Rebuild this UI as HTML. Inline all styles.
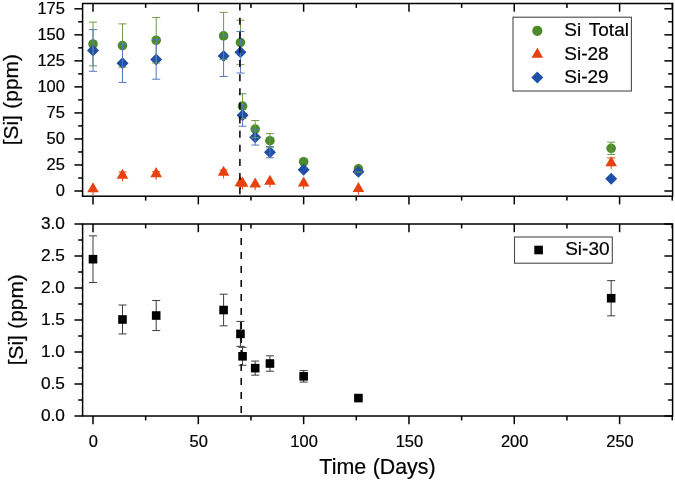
<!DOCTYPE html>
<html><head><meta charset="utf-8"><title>Si concentration vs time</title>
<style>
html,body{margin:0;padding:0;background:#fff;}
svg{display:block;font-family:"Liberation Sans",sans-serif;fill:#000;}
text{stroke:#000;stroke-width:0.2px;}
</style></head>
<body>
<svg width="675" height="481" viewBox="0 0 675 481">
<rect width="675" height="481" fill="#fff"/>
<g id="axes">
<rect x="82.6" y="3.5" width="590" height="192.7" fill="none" stroke="#000" stroke-width="1.5"/>
<line x1="93" y1="3.5" x2="93" y2="11.7" stroke="#000" stroke-width="1.5"/>
<line x1="93" y1="196.2" x2="93" y2="204.4" stroke="#000" stroke-width="1.5"/>
<line x1="198.32" y1="3.5" x2="198.32" y2="11.7" stroke="#000" stroke-width="1.5"/>
<line x1="198.32" y1="196.2" x2="198.32" y2="204.4" stroke="#000" stroke-width="1.5"/>
<line x1="303.64" y1="3.5" x2="303.64" y2="11.7" stroke="#000" stroke-width="1.5"/>
<line x1="303.64" y1="196.2" x2="303.64" y2="204.4" stroke="#000" stroke-width="1.5"/>
<line x1="408.96" y1="3.5" x2="408.96" y2="11.7" stroke="#000" stroke-width="1.5"/>
<line x1="408.96" y1="196.2" x2="408.96" y2="204.4" stroke="#000" stroke-width="1.5"/>
<line x1="514.28" y1="3.5" x2="514.28" y2="11.7" stroke="#000" stroke-width="1.5"/>
<line x1="514.28" y1="196.2" x2="514.28" y2="204.4" stroke="#000" stroke-width="1.5"/>
<line x1="619.6" y1="3.5" x2="619.6" y2="11.7" stroke="#000" stroke-width="1.5"/>
<line x1="619.6" y1="196.2" x2="619.6" y2="204.4" stroke="#000" stroke-width="1.5"/>
<line x1="145.66" y1="3.5" x2="145.66" y2="7.9" stroke="#000" stroke-width="1.5"/>
<line x1="145.66" y1="196.2" x2="145.66" y2="200.6" stroke="#000" stroke-width="1.5"/>
<line x1="250.98" y1="3.5" x2="250.98" y2="7.9" stroke="#000" stroke-width="1.5"/>
<line x1="250.98" y1="196.2" x2="250.98" y2="200.6" stroke="#000" stroke-width="1.5"/>
<line x1="356.3" y1="3.5" x2="356.3" y2="7.9" stroke="#000" stroke-width="1.5"/>
<line x1="356.3" y1="196.2" x2="356.3" y2="200.6" stroke="#000" stroke-width="1.5"/>
<line x1="461.62" y1="3.5" x2="461.62" y2="7.9" stroke="#000" stroke-width="1.5"/>
<line x1="461.62" y1="196.2" x2="461.62" y2="200.6" stroke="#000" stroke-width="1.5"/>
<line x1="566.94" y1="3.5" x2="566.94" y2="7.9" stroke="#000" stroke-width="1.5"/>
<line x1="566.94" y1="196.2" x2="566.94" y2="200.6" stroke="#000" stroke-width="1.5"/>
<line x1="672.26" y1="3.5" x2="672.26" y2="7.9" stroke="#000" stroke-width="1.5"/>
<line x1="672.26" y1="196.2" x2="672.26" y2="200.6" stroke="#000" stroke-width="1.5"/>
<line x1="74.4" y1="191" x2="82.6" y2="191" stroke="#000" stroke-width="1.5"/>
<line x1="664.4" y1="191" x2="672.6" y2="191" stroke="#000" stroke-width="1.5"/>
<line x1="74.4" y1="164.97" x2="82.6" y2="164.97" stroke="#000" stroke-width="1.5"/>
<line x1="664.4" y1="164.97" x2="672.6" y2="164.97" stroke="#000" stroke-width="1.5"/>
<line x1="74.4" y1="138.94" x2="82.6" y2="138.94" stroke="#000" stroke-width="1.5"/>
<line x1="664.4" y1="138.94" x2="672.6" y2="138.94" stroke="#000" stroke-width="1.5"/>
<line x1="74.4" y1="112.92" x2="82.6" y2="112.92" stroke="#000" stroke-width="1.5"/>
<line x1="664.4" y1="112.92" x2="672.6" y2="112.92" stroke="#000" stroke-width="1.5"/>
<line x1="74.4" y1="86.89" x2="82.6" y2="86.89" stroke="#000" stroke-width="1.5"/>
<line x1="664.4" y1="86.89" x2="672.6" y2="86.89" stroke="#000" stroke-width="1.5"/>
<line x1="74.4" y1="60.86" x2="82.6" y2="60.86" stroke="#000" stroke-width="1.5"/>
<line x1="664.4" y1="60.86" x2="672.6" y2="60.86" stroke="#000" stroke-width="1.5"/>
<line x1="74.4" y1="34.84" x2="82.6" y2="34.84" stroke="#000" stroke-width="1.5"/>
<line x1="664.4" y1="34.84" x2="672.6" y2="34.84" stroke="#000" stroke-width="1.5"/>
<line x1="74.4" y1="8.81" x2="82.6" y2="8.81" stroke="#000" stroke-width="1.5"/>
<line x1="664.4" y1="8.81" x2="672.6" y2="8.81" stroke="#000" stroke-width="1.5"/>
<line x1="78.2" y1="177.99" x2="82.6" y2="177.99" stroke="#000" stroke-width="1.5"/>
<line x1="668.2" y1="177.99" x2="672.6" y2="177.99" stroke="#000" stroke-width="1.5"/>
<line x1="78.2" y1="151.96" x2="82.6" y2="151.96" stroke="#000" stroke-width="1.5"/>
<line x1="668.2" y1="151.96" x2="672.6" y2="151.96" stroke="#000" stroke-width="1.5"/>
<line x1="78.2" y1="125.93" x2="82.6" y2="125.93" stroke="#000" stroke-width="1.5"/>
<line x1="668.2" y1="125.93" x2="672.6" y2="125.93" stroke="#000" stroke-width="1.5"/>
<line x1="78.2" y1="99.9" x2="82.6" y2="99.9" stroke="#000" stroke-width="1.5"/>
<line x1="668.2" y1="99.9" x2="672.6" y2="99.9" stroke="#000" stroke-width="1.5"/>
<line x1="78.2" y1="73.88" x2="82.6" y2="73.88" stroke="#000" stroke-width="1.5"/>
<line x1="668.2" y1="73.88" x2="672.6" y2="73.88" stroke="#000" stroke-width="1.5"/>
<line x1="78.2" y1="47.85" x2="82.6" y2="47.85" stroke="#000" stroke-width="1.5"/>
<line x1="668.2" y1="47.85" x2="672.6" y2="47.85" stroke="#000" stroke-width="1.5"/>
<line x1="78.2" y1="21.82" x2="82.6" y2="21.82" stroke="#000" stroke-width="1.5"/>
<line x1="668.2" y1="21.82" x2="672.6" y2="21.82" stroke="#000" stroke-width="1.5"/>
<rect x="82.6" y="224" width="590" height="192" fill="none" stroke="#000" stroke-width="1.5"/>
<line x1="93" y1="224" x2="93" y2="232.2" stroke="#000" stroke-width="1.5"/>
<line x1="93" y1="416" x2="93" y2="424.2" stroke="#000" stroke-width="1.5"/>
<line x1="198.32" y1="224" x2="198.32" y2="232.2" stroke="#000" stroke-width="1.5"/>
<line x1="198.32" y1="416" x2="198.32" y2="424.2" stroke="#000" stroke-width="1.5"/>
<line x1="303.64" y1="224" x2="303.64" y2="232.2" stroke="#000" stroke-width="1.5"/>
<line x1="303.64" y1="416" x2="303.64" y2="424.2" stroke="#000" stroke-width="1.5"/>
<line x1="408.96" y1="224" x2="408.96" y2="232.2" stroke="#000" stroke-width="1.5"/>
<line x1="408.96" y1="416" x2="408.96" y2="424.2" stroke="#000" stroke-width="1.5"/>
<line x1="514.28" y1="224" x2="514.28" y2="232.2" stroke="#000" stroke-width="1.5"/>
<line x1="514.28" y1="416" x2="514.28" y2="424.2" stroke="#000" stroke-width="1.5"/>
<line x1="619.6" y1="224" x2="619.6" y2="232.2" stroke="#000" stroke-width="1.5"/>
<line x1="619.6" y1="416" x2="619.6" y2="424.2" stroke="#000" stroke-width="1.5"/>
<line x1="145.66" y1="224" x2="145.66" y2="228.4" stroke="#000" stroke-width="1.5"/>
<line x1="145.66" y1="416" x2="145.66" y2="420.4" stroke="#000" stroke-width="1.5"/>
<line x1="250.98" y1="224" x2="250.98" y2="228.4" stroke="#000" stroke-width="1.5"/>
<line x1="250.98" y1="416" x2="250.98" y2="420.4" stroke="#000" stroke-width="1.5"/>
<line x1="356.3" y1="224" x2="356.3" y2="228.4" stroke="#000" stroke-width="1.5"/>
<line x1="356.3" y1="416" x2="356.3" y2="420.4" stroke="#000" stroke-width="1.5"/>
<line x1="461.62" y1="224" x2="461.62" y2="228.4" stroke="#000" stroke-width="1.5"/>
<line x1="461.62" y1="416" x2="461.62" y2="420.4" stroke="#000" stroke-width="1.5"/>
<line x1="566.94" y1="224" x2="566.94" y2="228.4" stroke="#000" stroke-width="1.5"/>
<line x1="566.94" y1="416" x2="566.94" y2="420.4" stroke="#000" stroke-width="1.5"/>
<line x1="672.26" y1="224" x2="672.26" y2="228.4" stroke="#000" stroke-width="1.5"/>
<line x1="672.26" y1="416" x2="672.26" y2="420.4" stroke="#000" stroke-width="1.5"/>
<line x1="74.4" y1="416" x2="82.6" y2="416" stroke="#000" stroke-width="1.5"/>
<line x1="664.4" y1="416" x2="672.6" y2="416" stroke="#000" stroke-width="1.5"/>
<line x1="74.4" y1="384" x2="82.6" y2="384" stroke="#000" stroke-width="1.5"/>
<line x1="664.4" y1="384" x2="672.6" y2="384" stroke="#000" stroke-width="1.5"/>
<line x1="74.4" y1="352" x2="82.6" y2="352" stroke="#000" stroke-width="1.5"/>
<line x1="664.4" y1="352" x2="672.6" y2="352" stroke="#000" stroke-width="1.5"/>
<line x1="74.4" y1="320" x2="82.6" y2="320" stroke="#000" stroke-width="1.5"/>
<line x1="664.4" y1="320" x2="672.6" y2="320" stroke="#000" stroke-width="1.5"/>
<line x1="74.4" y1="288" x2="82.6" y2="288" stroke="#000" stroke-width="1.5"/>
<line x1="664.4" y1="288" x2="672.6" y2="288" stroke="#000" stroke-width="1.5"/>
<line x1="74.4" y1="256" x2="82.6" y2="256" stroke="#000" stroke-width="1.5"/>
<line x1="664.4" y1="256" x2="672.6" y2="256" stroke="#000" stroke-width="1.5"/>
<line x1="74.4" y1="224" x2="82.6" y2="224" stroke="#000" stroke-width="1.5"/>
<line x1="664.4" y1="224" x2="672.6" y2="224" stroke="#000" stroke-width="1.5"/>
<line x1="78.2" y1="400" x2="82.6" y2="400" stroke="#000" stroke-width="1.5"/>
<line x1="668.2" y1="400" x2="672.6" y2="400" stroke="#000" stroke-width="1.5"/>
<line x1="78.2" y1="368" x2="82.6" y2="368" stroke="#000" stroke-width="1.5"/>
<line x1="668.2" y1="368" x2="672.6" y2="368" stroke="#000" stroke-width="1.5"/>
<line x1="78.2" y1="336" x2="82.6" y2="336" stroke="#000" stroke-width="1.5"/>
<line x1="668.2" y1="336" x2="672.6" y2="336" stroke="#000" stroke-width="1.5"/>
<line x1="78.2" y1="304" x2="82.6" y2="304" stroke="#000" stroke-width="1.5"/>
<line x1="668.2" y1="304" x2="672.6" y2="304" stroke="#000" stroke-width="1.5"/>
<line x1="78.2" y1="272" x2="82.6" y2="272" stroke="#000" stroke-width="1.5"/>
<line x1="668.2" y1="272" x2="672.6" y2="272" stroke="#000" stroke-width="1.5"/>
<line x1="78.2" y1="240" x2="82.6" y2="240" stroke="#000" stroke-width="1.5"/>
<line x1="668.2" y1="240" x2="672.6" y2="240" stroke="#000" stroke-width="1.5"/>
</g>
<g font-size="15.7" text-anchor="end">
<text transform="translate(64.9,196) scale(1.05,1)">0</text>
<text transform="translate(64.9,169.97) scale(1.05,1)">25</text>
<text transform="translate(64.9,143.94) scale(1.05,1)">50</text>
<text transform="translate(64.9,117.92) scale(1.05,1)">75</text>
<text transform="translate(64.9,91.89) scale(1.05,1)">100</text>
<text transform="translate(64.9,65.86) scale(1.05,1)">125</text>
<text transform="translate(64.9,39.84) scale(1.05,1)">150</text>
<text transform="translate(64.9,13.81) scale(1.05,1)">175</text>
<text transform="translate(64.9,421) scale(1.1,1)">0.0</text>
<text transform="translate(64.9,389) scale(1.1,1)">0.5</text>
<text transform="translate(64.9,357) scale(1.1,1)">1.0</text>
<text transform="translate(64.9,325) scale(1.1,1)">1.5</text>
<text transform="translate(64.9,293) scale(1.1,1)">2.0</text>
<text transform="translate(64.9,261) scale(1.1,1)">2.5</text>
<text transform="translate(64.9,229) scale(1.1,1)">3.0</text>
</g>
<g font-size="15.7" text-anchor="middle">
<text transform="translate(93.4,447.3) scale(1.05,1)">0</text>
<text transform="translate(198.72,447.3) scale(1.05,1)">50</text>
<text transform="translate(304.04,447.3) scale(1.05,1)">100</text>
<text transform="translate(409.36,447.3) scale(1.05,1)">150</text>
<text transform="translate(514.68,447.3) scale(1.05,1)">200</text>
<text transform="translate(620,447.3) scale(1.05,1)">250</text>
</g>
<g font-size="21.4" text-anchor="middle" word-spacing="0.6">
<text x="377.5" y="474.4">Time (Days)</text>
<text transform="translate(17.7,99.7) rotate(-90)" font-size="20.9">[Si] (ppm)</text>
<text transform="translate(22.5,319.8) rotate(-90)" font-size="20.9">[Si] (ppm)</text>
</g>
<g id="top-data">
<circle cx="93" cy="44" r="4.8" fill="#4b8b2b"/>
<circle cx="122.49" cy="45.56" r="4.8" fill="#4b8b2b"/>
<circle cx="156.19" cy="40.25" r="4.8" fill="#4b8b2b"/>
<circle cx="223.6" cy="35.88" r="4.8" fill="#4b8b2b"/>
<circle cx="240.45" cy="42.44" r="4.8" fill="#4b8b2b"/>
<circle cx="242.55" cy="106.15" r="4.8" fill="#4b8b2b"/>
<circle cx="255.19" cy="129.05" r="4.8" fill="#4b8b2b"/>
<circle cx="269.94" cy="140.71" r="4.8" fill="#4b8b2b"/>
<circle cx="303.64" cy="161.75" r="4.8" fill="#4b8b2b"/>
<circle cx="358.41" cy="168.82" r="4.8" fill="#4b8b2b"/>
<circle cx="611.17" cy="148.31" r="4.8" fill="#4b8b2b"/>
<polygon points="93,182.32 98.8,192.37 87.2,192.37" fill="#e8400f"/>
<polygon points="122.49,168.69 128.29,178.73 116.69,178.73" fill="#e8400f"/>
<polygon points="156.19,167.12 161.99,177.17 150.39,177.17" fill="#e8400f"/>
<polygon points="223.6,165.77 229.4,175.82 217.8,175.82" fill="#e8400f"/>
<polygon points="240.45,176.29 246.25,186.33 234.65,186.33" fill="#e8400f"/>
<polygon points="242.55,176.6 248.35,186.64 236.75,186.64" fill="#e8400f"/>
<polygon points="255.19,177.54 260.99,187.58 249.39,187.58" fill="#e8400f"/>
<polygon points="269.94,174.72 275.74,184.77 264.14,184.77" fill="#e8400f"/>
<polygon points="303.64,176.49 309.44,186.54 297.84,186.54" fill="#e8400f"/>
<polygon points="358.41,182.01 364.21,192.06 352.61,192.06" fill="#e8400f"/>
<polygon points="611.17,156.19 616.97,166.24 605.37,166.24" fill="#e8400f"/>
<polygon points="93,44.45 99,50.45 93,56.45 87,50.45" fill="#1f4fa6"/>
<polygon points="122.49,57.26 128.49,63.26 122.49,69.26 116.49,63.26" fill="#1f4fa6"/>
<polygon points="156.19,53.4 162.19,59.4 156.19,65.4 150.19,59.4" fill="#1f4fa6"/>
<polygon points="223.6,50.07 229.6,56.07 223.6,62.07 217.6,56.07" fill="#1f4fa6"/>
<polygon points="240.45,46.22 246.45,52.22 240.45,58.22 234.45,52.22" fill="#1f4fa6"/>
<polygon points="242.55,109.21 248.55,115.21 242.55,121.21 236.55,115.21" fill="#1f4fa6"/>
<polygon points="255.19,131.28 261.19,137.28 255.19,143.28 249.19,137.28" fill="#1f4fa6"/>
<polygon points="269.94,146.17 275.94,152.17 269.94,158.17 263.94,152.17" fill="#1f4fa6"/>
<polygon points="303.64,163.76 309.64,169.76 303.64,175.76 297.64,169.76" fill="#1f4fa6"/>
<polygon points="358.41,165.84 364.41,171.84 358.41,177.84 352.41,171.84" fill="#1f4fa6"/>
<polygon points="611.17,172.72 617.17,178.72 611.17,184.72 605.17,178.72" fill="#1f4fa6"/>
<line x1="93" y1="22.13" x2="93" y2="65.86" stroke="#6f9a45" stroke-width="1"/>
<line x1="89" y1="22.13" x2="97" y2="22.13" stroke="#6f9a45" stroke-width="1"/>
<line x1="89" y1="65.86" x2="97" y2="65.86" stroke="#6f9a45" stroke-width="1"/>
<line x1="122.49" y1="23.9" x2="122.49" y2="67.21" stroke="#6f9a45" stroke-width="1"/>
<line x1="118.49" y1="23.9" x2="126.49" y2="23.9" stroke="#6f9a45" stroke-width="1"/>
<line x1="118.49" y1="67.21" x2="126.49" y2="67.21" stroke="#6f9a45" stroke-width="1"/>
<line x1="156.19" y1="17.55" x2="156.19" y2="62.94" stroke="#6f9a45" stroke-width="1"/>
<line x1="152.19" y1="17.55" x2="160.19" y2="17.55" stroke="#6f9a45" stroke-width="1"/>
<line x1="152.19" y1="62.94" x2="160.19" y2="62.94" stroke="#6f9a45" stroke-width="1"/>
<line x1="223.6" y1="12.35" x2="223.6" y2="59.4" stroke="#6f9a45" stroke-width="1"/>
<line x1="219.6" y1="12.35" x2="227.6" y2="12.35" stroke="#6f9a45" stroke-width="1"/>
<line x1="219.6" y1="59.4" x2="227.6" y2="59.4" stroke="#6f9a45" stroke-width="1"/>
<line x1="240.45" y1="20.16" x2="240.45" y2="64.71" stroke="#6f9a45" stroke-width="1"/>
<line x1="236.45" y1="20.16" x2="244.45" y2="20.16" stroke="#6f9a45" stroke-width="1"/>
<line x1="236.45" y1="64.71" x2="244.45" y2="64.71" stroke="#6f9a45" stroke-width="1"/>
<line x1="242.55" y1="93.76" x2="242.55" y2="118.54" stroke="#6f9a45" stroke-width="1"/>
<line x1="238.55" y1="93.76" x2="246.55" y2="93.76" stroke="#6f9a45" stroke-width="1"/>
<line x1="238.55" y1="118.54" x2="246.55" y2="118.54" stroke="#6f9a45" stroke-width="1"/>
<line x1="255.19" y1="120.52" x2="255.19" y2="137.59" stroke="#6f9a45" stroke-width="1"/>
<line x1="251.19" y1="120.52" x2="259.19" y2="120.52" stroke="#6f9a45" stroke-width="1"/>
<line x1="251.19" y1="137.59" x2="259.19" y2="137.59" stroke="#6f9a45" stroke-width="1"/>
<line x1="269.94" y1="133.64" x2="269.94" y2="147.79" stroke="#6f9a45" stroke-width="1"/>
<line x1="265.94" y1="133.64" x2="273.94" y2="133.64" stroke="#6f9a45" stroke-width="1"/>
<line x1="265.94" y1="147.79" x2="273.94" y2="147.79" stroke="#6f9a45" stroke-width="1"/>
<line x1="354.41" y1="172.05" x2="362.41" y2="172.05" stroke="#6f9a45" stroke-width="1"/>
<line x1="611.17" y1="142.17" x2="611.17" y2="154.46" stroke="#6f9a45" stroke-width="1"/>
<line x1="607.17" y1="142.17" x2="615.17" y2="142.17" stroke="#6f9a45" stroke-width="1"/>
<line x1="607.17" y1="154.46" x2="615.17" y2="154.46" stroke="#6f9a45" stroke-width="1"/>
<line x1="93" y1="29.63" x2="93" y2="71.27" stroke="#5577c4" stroke-width="1"/>
<line x1="89" y1="29.63" x2="97" y2="29.63" stroke="#5577c4" stroke-width="1"/>
<line x1="89" y1="71.27" x2="97" y2="71.27" stroke="#5577c4" stroke-width="1"/>
<line x1="122.49" y1="44.1" x2="122.49" y2="82.41" stroke="#5577c4" stroke-width="1"/>
<line x1="118.49" y1="44.1" x2="126.49" y2="44.1" stroke="#5577c4" stroke-width="1"/>
<line x1="118.49" y1="82.41" x2="126.49" y2="82.41" stroke="#5577c4" stroke-width="1"/>
<line x1="156.19" y1="39.62" x2="156.19" y2="79.19" stroke="#5577c4" stroke-width="1"/>
<line x1="152.19" y1="39.62" x2="160.19" y2="39.62" stroke="#5577c4" stroke-width="1"/>
<line x1="152.19" y1="79.19" x2="160.19" y2="79.19" stroke="#5577c4" stroke-width="1"/>
<line x1="223.6" y1="35.67" x2="223.6" y2="76.48" stroke="#5577c4" stroke-width="1"/>
<line x1="219.6" y1="35.67" x2="227.6" y2="35.67" stroke="#5577c4" stroke-width="1"/>
<line x1="219.6" y1="76.48" x2="227.6" y2="76.48" stroke="#5577c4" stroke-width="1"/>
<line x1="240.45" y1="31.4" x2="240.45" y2="73.04" stroke="#5577c4" stroke-width="1"/>
<line x1="236.45" y1="31.4" x2="244.45" y2="31.4" stroke="#5577c4" stroke-width="1"/>
<line x1="236.45" y1="73.04" x2="244.45" y2="73.04" stroke="#5577c4" stroke-width="1"/>
<line x1="242.55" y1="104.17" x2="242.55" y2="126.24" stroke="#5577c4" stroke-width="1"/>
<line x1="238.55" y1="104.17" x2="246.55" y2="104.17" stroke="#5577c4" stroke-width="1"/>
<line x1="238.55" y1="126.24" x2="246.55" y2="126.24" stroke="#5577c4" stroke-width="1"/>
<line x1="255.19" y1="129.47" x2="255.19" y2="145.09" stroke="#5577c4" stroke-width="1"/>
<line x1="251.19" y1="129.47" x2="259.19" y2="129.47" stroke="#5577c4" stroke-width="1"/>
<line x1="251.19" y1="145.09" x2="259.19" y2="145.09" stroke="#5577c4" stroke-width="1"/>
<line x1="269.94" y1="146.55" x2="269.94" y2="157.79" stroke="#5577c4" stroke-width="1"/>
<line x1="265.94" y1="146.55" x2="273.94" y2="146.55" stroke="#5577c4" stroke-width="1"/>
<line x1="265.94" y1="157.79" x2="273.94" y2="157.79" stroke="#5577c4" stroke-width="1"/>
<line x1="93" y1="187.02" x2="93" y2="195.02" stroke="#e8400f" stroke-width="1"/>
<line x1="122.49" y1="173.38" x2="122.49" y2="181.38" stroke="#e8400f" stroke-width="1"/>
<line x1="118.49" y1="171.98" x2="126.49" y2="171.98" stroke="#e8400f" stroke-width="1"/>
<line x1="156.19" y1="171.82" x2="156.19" y2="179.82" stroke="#e8400f" stroke-width="1"/>
<line x1="152.19" y1="171.72" x2="160.19" y2="171.72" stroke="#e8400f" stroke-width="1"/>
<line x1="223.6" y1="170.47" x2="223.6" y2="178.47" stroke="#e8400f" stroke-width="1"/>
<line x1="219.6" y1="170.07" x2="227.6" y2="170.07" stroke="#e8400f" stroke-width="1"/>
<line x1="240.45" y1="180.98" x2="240.45" y2="188.98" stroke="#e8400f" stroke-width="1"/>
<line x1="242.55" y1="181.3" x2="242.55" y2="189.3" stroke="#e8400f" stroke-width="1"/>
<line x1="255.19" y1="182.23" x2="255.19" y2="190.23" stroke="#e8400f" stroke-width="1"/>
<line x1="269.94" y1="179.42" x2="269.94" y2="187.42" stroke="#e8400f" stroke-width="1"/>
<line x1="303.64" y1="181.19" x2="303.64" y2="189.19" stroke="#e8400f" stroke-width="1"/>
<line x1="358.41" y1="186.71" x2="358.41" y2="194.71" stroke="#e8400f" stroke-width="1"/>
<line x1="611.17" y1="160.89" x2="611.17" y2="168.89" stroke="#e8400f" stroke-width="1"/>
<line x1="607.17" y1="157.99" x2="615.17" y2="157.99" stroke="#e8400f" stroke-width="1"/>
</g>
<g id="bottom-data">
<line x1="93" y1="235.84" x2="93" y2="282.56" stroke="#3c3c3c" stroke-width="1"/>
<line x1="89" y1="235.84" x2="97" y2="235.84" stroke="#3c3c3c" stroke-width="1"/>
<line x1="89" y1="282.56" x2="97" y2="282.56" stroke="#3c3c3c" stroke-width="1"/>
<line x1="122.49" y1="305.02" x2="122.49" y2="333.95" stroke="#3c3c3c" stroke-width="1"/>
<line x1="118.49" y1="305.02" x2="126.49" y2="305.02" stroke="#3c3c3c" stroke-width="1"/>
<line x1="118.49" y1="333.95" x2="126.49" y2="333.95" stroke="#3c3c3c" stroke-width="1"/>
<line x1="156.19" y1="300.48" x2="156.19" y2="330.56" stroke="#3c3c3c" stroke-width="1"/>
<line x1="152.19" y1="300.48" x2="160.19" y2="300.48" stroke="#3c3c3c" stroke-width="1"/>
<line x1="152.19" y1="330.56" x2="160.19" y2="330.56" stroke="#3c3c3c" stroke-width="1"/>
<line x1="223.6" y1="294.21" x2="223.6" y2="325.82" stroke="#3c3c3c" stroke-width="1"/>
<line x1="219.6" y1="294.21" x2="227.6" y2="294.21" stroke="#3c3c3c" stroke-width="1"/>
<line x1="219.6" y1="325.82" x2="227.6" y2="325.82" stroke="#3c3c3c" stroke-width="1"/>
<line x1="240.45" y1="321.41" x2="240.45" y2="346.37" stroke="#3c3c3c" stroke-width="1"/>
<line x1="236.45" y1="321.41" x2="244.45" y2="321.41" stroke="#3c3c3c" stroke-width="1"/>
<line x1="236.45" y1="346.37" x2="244.45" y2="346.37" stroke="#3c3c3c" stroke-width="1"/>
<line x1="242.55" y1="347.33" x2="242.55" y2="365.25" stroke="#3c3c3c" stroke-width="1"/>
<line x1="238.55" y1="347.33" x2="246.55" y2="347.33" stroke="#3c3c3c" stroke-width="1"/>
<line x1="238.55" y1="365.25" x2="246.55" y2="365.25" stroke="#3c3c3c" stroke-width="1"/>
<line x1="255.19" y1="361.09" x2="255.19" y2="375.17" stroke="#3c3c3c" stroke-width="1"/>
<line x1="251.19" y1="361.09" x2="259.19" y2="361.09" stroke="#3c3c3c" stroke-width="1"/>
<line x1="251.19" y1="375.17" x2="259.19" y2="375.17" stroke="#3c3c3c" stroke-width="1"/>
<line x1="269.94" y1="355.84" x2="269.94" y2="371.2" stroke="#3c3c3c" stroke-width="1"/>
<line x1="265.94" y1="355.84" x2="273.94" y2="355.84" stroke="#3c3c3c" stroke-width="1"/>
<line x1="265.94" y1="371.2" x2="273.94" y2="371.2" stroke="#3c3c3c" stroke-width="1"/>
<line x1="303.64" y1="370.56" x2="303.64" y2="382.08" stroke="#3c3c3c" stroke-width="1"/>
<line x1="299.64" y1="370.56" x2="307.64" y2="370.56" stroke="#3c3c3c" stroke-width="1"/>
<line x1="299.64" y1="382.08" x2="307.64" y2="382.08" stroke="#3c3c3c" stroke-width="1"/>
<line x1="611.17" y1="280.64" x2="611.17" y2="315.84" stroke="#3c3c3c" stroke-width="1"/>
<line x1="607.17" y1="280.64" x2="615.17" y2="280.64" stroke="#3c3c3c" stroke-width="1"/>
<line x1="607.17" y1="315.84" x2="615.17" y2="315.84" stroke="#3c3c3c" stroke-width="1"/>
<rect x="88.7" y="254.9" width="8.6" height="8.6" fill="#000"/>
<rect x="118.19" y="315.19" width="8.6" height="8.6" fill="#000"/>
<rect x="151.89" y="311.22" width="8.6" height="8.6" fill="#000"/>
<rect x="219.3" y="305.72" width="8.6" height="8.6" fill="#000"/>
<rect x="236.15" y="329.59" width="8.6" height="8.6" fill="#000"/>
<rect x="238.25" y="351.99" width="8.6" height="8.6" fill="#000"/>
<rect x="250.89" y="363.83" width="8.6" height="8.6" fill="#000"/>
<rect x="265.64" y="359.22" width="8.6" height="8.6" fill="#000"/>
<rect x="299.34" y="372.02" width="8.6" height="8.6" fill="#000"/>
<rect x="354.11" y="393.78" width="8.6" height="8.6" fill="#000"/>
<rect x="606.87" y="293.94" width="8.6" height="8.6" fill="#000"/>
</g>
<line x1="239.9" y1="3.5" x2="239.9" y2="196.2" stroke="#000" stroke-width="1.5" stroke-dasharray="7 7.13"/>
<line x1="241.2" y1="224" x2="241.2" y2="416" stroke="#000" stroke-width="1.5" stroke-dasharray="7 7"/>
<rect x="513" y="17.2" width="118.4" height="73.8" fill="#fff" stroke="#4a4a4a" stroke-width="1.1"/>
<circle cx="537.3" cy="30.8" r="5.1" fill="#4b8b2b"/>
<polygon points="537.3,47.7 543.1,57.75 531.5,57.75" fill="#e8400f"/>
<polygon points="537.3,71.5 543.3,77.5 537.3,83.5 531.3,77.5" fill="#1f4fa6"/>
<g font-size="19"><text x="564.3" y="36.4">Si</text><text x="588.8" y="36.4">Total</text><text x="564.3" y="59.6">Si-28</text><text x="564.3" y="83">Si-29</text></g>
<rect x="514.5" y="237" width="97.8" height="26.2" fill="#fff" stroke="#4a4a4a" stroke-width="1.1"/>
<rect x="534.3" y="245.7" width="8.6" height="8.6" fill="#000"/>
<text x="565.2" y="255.4" font-size="19">Si-30</text>
</svg>
</body></html>
